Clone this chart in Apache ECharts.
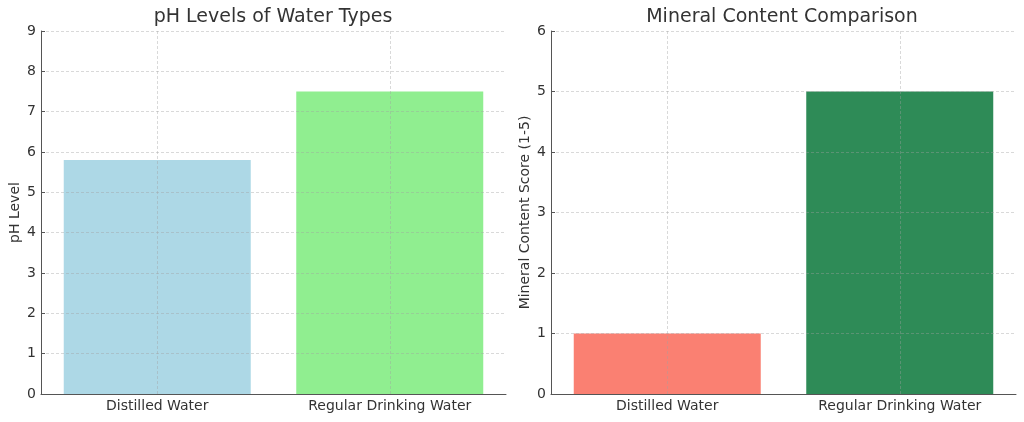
<!DOCTYPE html>
<html>
<head>
<meta charset="utf-8">
<script src="https://cdn.jsdelivr.net/npm/echarts@6/dist/echarts.min.js"></script>
<style>
  html, body { margin: 0; padding: 0; background: #fff; }
  #chart { width: 1024px; height: 422px; }
</style>
</head>
<body>
<div id="chart"></div>
<script>
// data
var categories = ['Distilled Water', 'Regular Drinking Water']
var phValues = [5.8, 7.5]
var mineralValues = [1, 5]
var phColors = ['#ADD8E6', '#90EE90']
var mineralColors = ['#FA8072', '#2E8B57']

var font = 'DejaVu Sans'
var textColor = '#333'
var gridLine = { color: 'rgba(160,160,160,0.5)', type: [3, 2], width: 0.8 }

function xAxisFor(idx) {
  return {
    type: 'category',
    gridIndex: idx,
    data: categories,
    z: 5,
    axisLine: { lineStyle: { color: '#555', width: 1 } },
    axisTick: { alignWithLabel: true, inside: true, length: 4, lineStyle: { color: '#555' } },
    axisLabel: { color: textColor, fontFamily: font, fontSize: 14, margin: 5 },
    splitLine: { show: false }
  }
}

function yAxisFor(idx, max, name) {
  return {
    type: 'value',
    gridIndex: idx,
    min: 0,
    max: max,
    interval: 1,
    z: 5,
    name: name,
    nameLocation: 'middle',
    nameGap: 19,
    nameTextStyle: { color: textColor, fontFamily: font, fontSize: 14 },
    axisLine: { show: true, lineStyle: { color: '#555', width: 1 } },
    axisTick: { show: true, inside: true, length: 4, lineStyle: { color: '#555' } },
    axisLabel: { color: textColor, fontFamily: font, fontSize: 14, margin: 5 },
    splitLine: { show: true, lineStyle: gridLine }
  }
}

function barSeries(idx, values, colors) {
  return {
    type: 'bar',
    xAxisIndex: idx,
    yAxisIndex: idx,
    barWidth: 187,
    data: values.map(function (v, i) {
      return { value: v, itemStyle: { color: colors[i] } }
    }),
    markLine: {
      silent: true,
      symbol: 'none',
      label: { show: false },
      lineStyle: gridLine,
      z: 6,
      data: categories.map(function (c) { return { xAxis: c } })
    }
  }
}

var chart = echarts.init(document.getElementById('chart'), null, { renderer: 'canvas' })
chart.setOption({
  animation: false,
  backgroundColor: '#fff',
  title: [
    {
      text: 'pH Levels of Water Types',
      left: 268, top: 3, textAlign: 'center',
      textStyle: { color: textColor, fontFamily: font, fontSize: 19, fontWeight: 'normal' }
    },
    {
      text: 'Mineral Content Comparison',
      left: 777, top: 3, textAlign: 'center',
      textStyle: { color: textColor, fontFamily: font, fontSize: 19, fontWeight: 'normal' }
    }
  ],
  grid: [
    { left: 41, right: 518, top: 31, bottom: 28 },
    { left: 551, right: 8, top: 31, bottom: 28 }
  ],
  xAxis: [xAxisFor(0), xAxisFor(1)],
  yAxis: [yAxisFor(0, 9, 'pH Level'), yAxisFor(1, 6, 'Mineral Content Score (1-5)')],
  series: [
    barSeries(0, phValues, phColors),
    barSeries(1, mineralValues, mineralColors)
  ]
})
</script>
</body>
</html>
